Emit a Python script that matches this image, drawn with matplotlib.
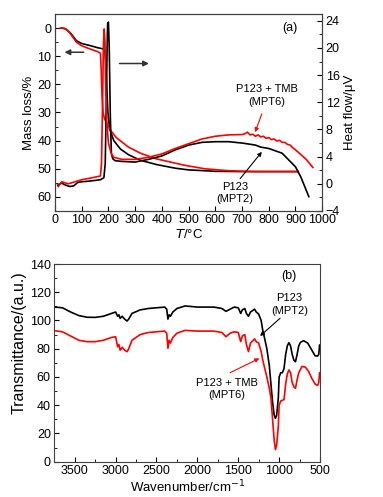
import matplotlib
matplotlib.use("Agg")
import matplotlib.pyplot as plt
from matplotlib.ticker import MultipleLocator

plt.rcParams["font.family"] = ["Liberation Sans", "DejaVu Sans"]
plt.rcParams["font.size"] = 9

# (a) TG curves (mass loss, left axis)
tg_t_mpt2 = [25, 40, 60, 80, 100, 130, 160, 180, 186, 190, 194, 198, 205, 220, 245, 275, 320, 380, 450, 500, 600, 700, 800, 910]
tg_m_mpt2 = [0, 0.3, 2, 4.5, 5.5, 6.2, 7.0, 7.4, 7.8, 12, 22, 30, 36, 40, 43, 45, 47, 48.5, 49.8, 50.4, 50.9, 51, 51, 51]
tg_t_mpt6 = [20, 35, 50, 65, 80, 100, 130, 160, 170, 173, 176, 180, 186, 193, 205, 230, 275, 320, 380, 487, 560, 650, 750, 910]
tg_m_mpt6 = [0, 0.1, 1, 3, 5, 6.3, 7.4, 8.4, 9.0, 15, 24, 30, 32.5, 33.5, 36, 39, 42.3, 44.5, 46.5, 48.8, 50, 50.7, 51, 51]

# (a) DTA curves (heat flow, right axis)
dta_t_mpt2 = [10, 25, 40, 56, 70, 85, 100, 130, 170, 183, 188, 192, 195, 197, 200, 203, 207, 211, 216, 225, 250, 300, 350, 400, 450, 500, 550, 600, 650, 700, 750, 770, 800, 850, 880, 900, 920, 950]
dta_h_mpt2 = [-0.2, 0.1, -0.2, -0.4, -0.3, 0.2, 0.3, 0.4, 0.6, 0.9, 3, 12, 20, 23.6, 23.8, 20, 10, 4.5, 3.7, 3.4, 3.3, 3.2, 3.6, 4.1, 5.0, 5.7, 6.1, 6.2, 6.2, 6.0, 5.7, 5.4, 5.2, 4.5, 3.3, 2.5, 1.0, -1.9]
dta_t_mpt6 = [12, 25, 50, 100, 140, 170, 174, 178, 181, 184, 187, 190, 194, 200, 210, 220, 250, 300, 350, 400, 450, 500, 550, 600, 650, 700, 710, 720, 730, 740, 750, 760, 770, 780, 790, 800, 810, 820, 830, 840, 850, 860, 870, 880, 890, 900, 920, 940, 965]
dta_h_mpt6 = [-0.4, 0.3, 0.0, 0.6, 0.9, 1.15, 3, 12, 20, 22.8, 21, 14, 9, 6, 4.5, 3.9, 3.6, 3.6, 3.9, 4.4, 5.2, 5.9, 6.6, 7.0, 7.2, 7.25, 7.35, 7.6, 7.2, 7.3, 7.0, 7.2, 6.9, 7.0, 6.7, 6.8, 6.5, 6.6, 6.3, 6.4, 6.1, 6.1, 5.8, 5.7, 5.3, 5.0, 4.3, 3.6, 2.4]

# (b) FTIR spectra
wn_mpt2 = [3750, 3650, 3550, 3450, 3350, 3250, 3150, 3050, 3000, 2975, 2960, 2945, 2920, 2890, 2860, 2840, 2800, 2700, 2600, 2400, 2375, 2360, 2345, 2330, 2300, 2250, 2150, 2000, 1800, 1700, 1650, 1600, 1550, 1500, 1470, 1450, 1420, 1400, 1375, 1350, 1300, 1280, 1250, 1220, 1200, 1180, 1150, 1120, 1100, 1080, 1060, 1045, 1030, 1010, 1000, 980, 960, 940, 920, 900, 880, 860, 840, 820, 800, 780, 760, 740, 700, 650, 600, 560, 530, 515, 505]
tr_mpt2 = [109.5, 109, 106, 103.5, 102.3, 102.2, 103, 105, 106, 103, 104, 101.5, 103, 101, 99.6, 101, 105, 107.5, 108.5, 109.5, 108, 101, 104, 103, 106, 108.5, 110.3, 109.5, 109.5, 108.5, 106.5, 108, 109.5, 109, 105, 107.5, 108.5, 105, 103, 106, 108, 106, 104.5, 100, 93, 88, 80, 68, 55, 42, 33, 30.7, 33, 45, 60, 63, 63, 66, 76, 82, 84.3, 82, 76, 72, 70.8, 76, 82, 84.5, 85.7, 84, 79, 75, 74.8, 76, 82.6]
wn_mpt6 = [3750, 3650, 3550, 3450, 3350, 3250, 3150, 3050, 3000, 2975, 2960, 2945, 2920, 2890, 2860, 2840, 2800, 2700, 2600, 2400, 2375, 2360, 2345, 2330, 2300, 2250, 2150, 2000, 1800, 1700, 1650, 1600, 1550, 1500, 1470, 1450, 1420, 1400, 1375, 1350, 1300, 1280, 1250, 1220, 1200, 1180, 1150, 1120, 1100, 1080, 1060, 1045, 1030, 1010, 1000, 980, 960, 940, 920, 900, 880, 860, 840, 820, 800, 780, 760, 720, 680, 640, 600, 560, 530, 515, 505]
tr_mpt6 = [92.8, 92, 89, 86, 85, 85, 86, 88, 88.5, 81.4, 83, 79, 81, 79, 77.9, 80, 86, 90, 91.5, 92.5, 91, 80.3, 86, 84, 88, 91, 93, 92.5, 92.5, 91.5, 88.5, 91, 92, 91.5, 85, 89, 90, 83, 78, 84, 87, 85, 84, 78, 72, 67, 60, 52, 45, 30, 15, 8.5, 12, 25, 40, 43, 43.5, 44, 55, 62, 65, 63, 56, 53, 52, 58, 63, 67.5, 67, 64, 59, 55, 54, 56, 63]

RED = "#ff0000"
LAB = 8


def pointer(axis, tail, head, color):
    axis.annotate("", xy=head, xytext=tail,
                  arrowprops=dict(arrowstyle="-|>", color=color, lw=0.8,
                                  mutation_scale=6, shrinkA=0, shrinkB=0))


fig = plt.figure(figsize=(3.83, 4.97), dpi=100)

# ---- panel (a)
ax = fig.add_axes([0.1436, 0.5755, 0.6977, 0.3964])
ax2 = ax.twinx()
ax.plot(tg_t_mpt2, tg_m_mpt2, color="black", lw=1.2)
ax.plot(tg_t_mpt6, tg_m_mpt6, color=RED, lw=1.2)
ax2.plot(dta_t_mpt2, dta_h_mpt2, color="black", lw=1.2)
ax2.plot(dta_t_mpt6, dta_h_mpt6, color=RED, lw=1.2)
ax.set_xlim(0, 1000)
ax.set_ylim(65, -5)
ax2.set_ylim(-4, 25)
ax.xaxis.set_major_locator(MultipleLocator(100))
ax.yaxis.set_major_locator(MultipleLocator(10))
ax.yaxis.set_minor_locator(MultipleLocator(5))
ax2.yaxis.set_major_locator(MultipleLocator(4))
ax2.yaxis.set_minor_locator(MultipleLocator(2))
ax.set_xlabel("$T$/°C", labelpad=1, fontsize=9.5)
ax.set_ylabel("Mass loss/%", labelpad=2, fontsize=9.5)
ax2.set_ylabel("Heat flow/μV", labelpad=3, fontsize=9.5)

ax.annotate("", xy=(25, 8.6), xytext=(118, 8.6),
            arrowprops=dict(arrowstyle="-|>", color="0.2", lw=1.1, mutation_scale=8))
ax.annotate("", xy=(362, 12.6), xytext=(231, 12.6),
            arrowprops=dict(arrowstyle="-|>", color="0.2", lw=1.1, mutation_scale=8))
ax.text(878, 0, "(a)", ha="center", va="center")
ax.text(793, 24, "P123 + TMB\n(MPT6)", ha="center", va="center",
        linespacing=1.3, fontsize=LAB)
pointer(ax, (774, 30.5), (749, 37), RED)
ax.text(674, 58.6, "P123\n(MPT2)", ha="center", va="center",
        linespacing=1.3, fontsize=LAB)
pointer(ax, (693, 53.5), (774, 44), "black")

# ---- panel (b)
bx = fig.add_axes([0.1418, 0.0710, 0.6937, 0.3978])
bx.plot(wn_mpt2, tr_mpt2, color="black", lw=1.2)
bx.plot(wn_mpt6, tr_mpt6, color=RED, lw=1.2)
bx.set_xlim(3750, 500)
bx.set_ylim(0, 140)
bx.xaxis.set_major_locator(MultipleLocator(500))
bx.xaxis.set_minor_locator(MultipleLocator(250))
bx.yaxis.set_major_locator(MultipleLocator(20))
bx.yaxis.set_minor_locator(MultipleLocator(10))
bx.set_xlabel("Wavenumber/cm$^{-1}$", labelpad=1, fontsize=9.5)
bx.set_ylabel("Transmittance/(a.u.)", fontsize=11.5)
bx.yaxis.set_label_coords(-0.105, 0.6)
bx.text(875, 131.6, "(b)", ha="center", va="center")
bx.text(875, 111.3, "P123\n(MPT2)", ha="center", va="center",
        linespacing=1.3, fontsize=LAB)
pointer(bx, (988, 101.6), (1233, 89), "black")
bx.text(1641, 51.7, "P123 + TMB\n(MPT6)", ha="center", va="center",
        linespacing=1.3, fontsize=LAB)
pointer(bx, (1600, 63), (1242, 73.2), RED)

for a in (ax, ax2, bx):
    a.tick_params(which="both", direction="in", labelsize=9, pad=2.5)
    a.tick_params(which="major", length=3.5)
    a.tick_params(which="minor", length=2)
    for s in a.spines.values():
        s.set_linewidth(0.8)
        s.set_color("0.25")

fig.savefig("out.png", dpi=100)
